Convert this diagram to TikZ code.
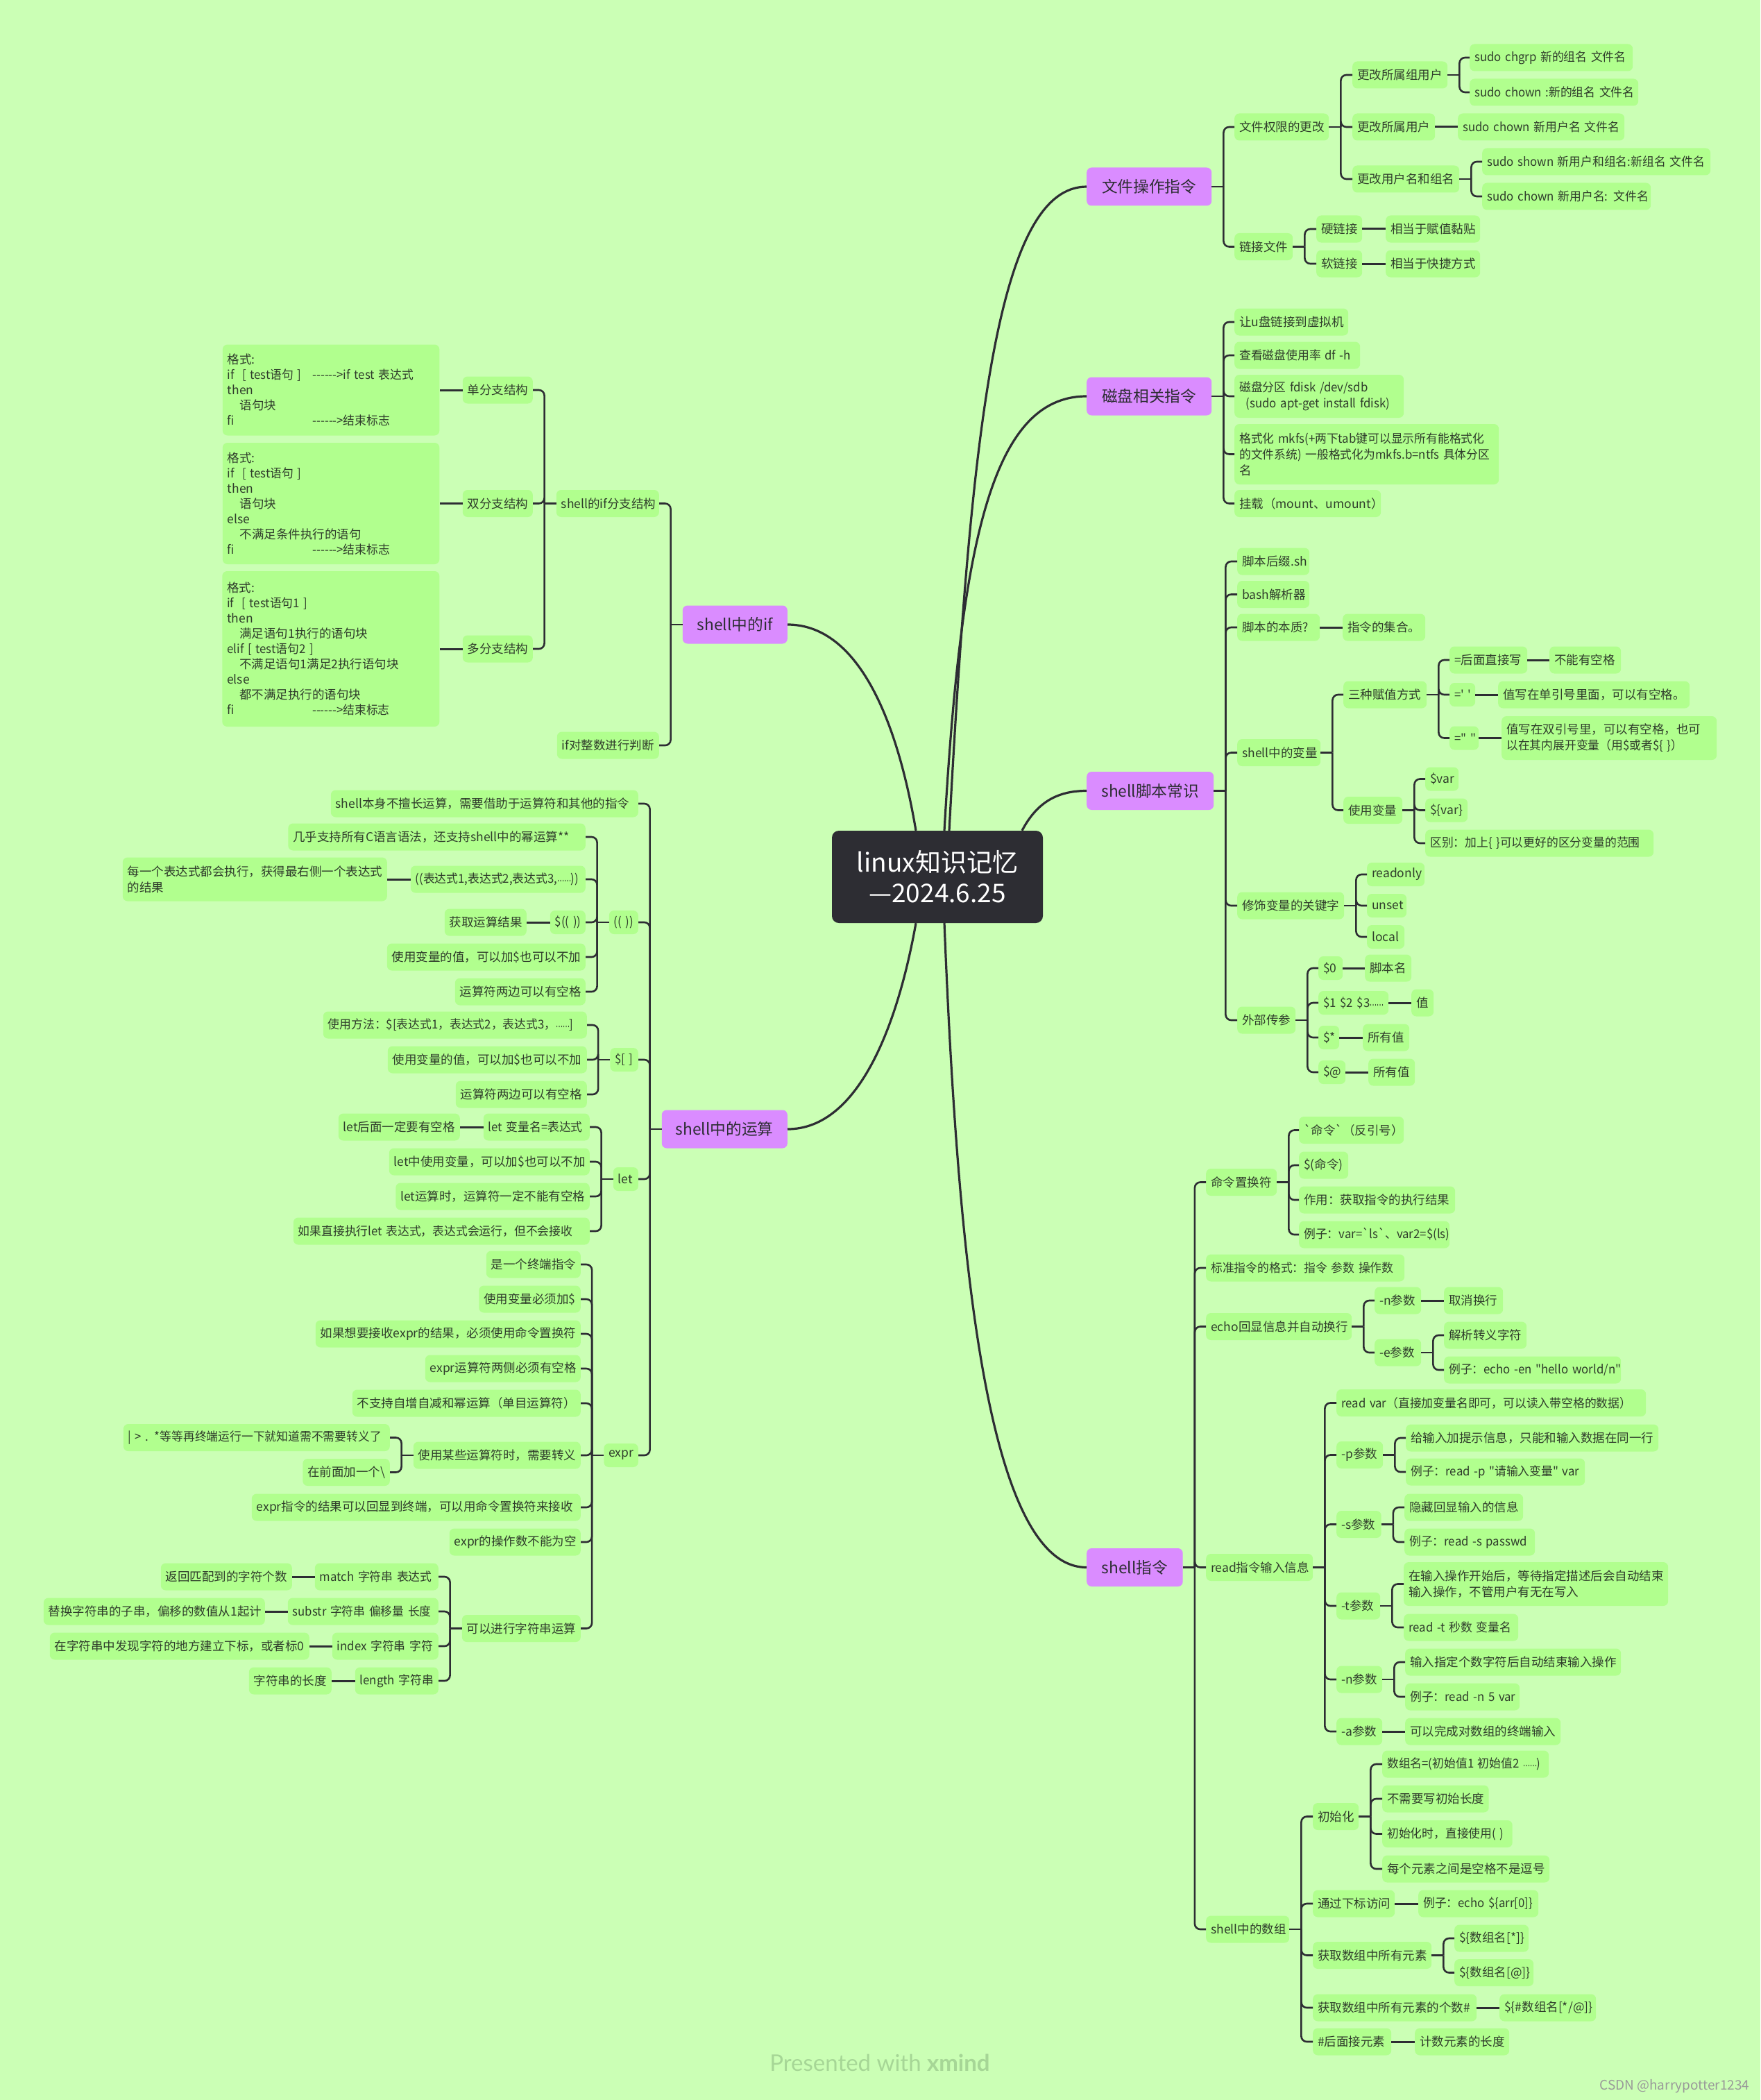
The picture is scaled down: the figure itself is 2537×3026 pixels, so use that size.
\documentclass[tikz,border=0pt]{standalone}
\usepackage{fontspec}
\usepackage{tikz}
\usetikzlibrary{positioning}
\newfontfamily\mapfont{Noto Sans CJK SC}
\newfontfamily\creditfont{Lato}
\definecolor{bggreen}{HTML}{CBFFB5}
\definecolor{leafgreen}{HTML}{B1FF8E}
\definecolor{topicpurple}{HTML}{DA8CFF}
\definecolor{inkdark}{HTML}{2D2D33}
\definecolor{leaftext}{HTML}{2F3D2B}
\definecolor{creditgreen}{HTML}{A6D696}
\newcommand{\kidsright}[2]{\draw[branch] (#1.east) -- ++(17,0) coordinate (spine);
    \foreach \kid in {#2} \draw[branch] (spine) |- (\kid.west);}
\newcommand{\kidsleft}[2]{\draw[branch] (#1.west) -- ++(-17,0) coordinate (spine);
    \foreach \kid in {#2} \draw[branch] (spine) |- (\kid.east);}
\newcommand{\tabto}[1]{\makebox[128pt][l]{#1}}
\newcommand{\codein}{\hspace*{18pt}}
\newcommand{\dotsrow}{\raisebox{2pt}{\scalebox{.55}[1]{……}}}
\newcommand{\oneline}[1]{\scalebox{.96}[1]{#1}}
\newcommand{\zcomma}{\char"FF0C\relax}
\newcommand{\zcolon}{\char"FF1A\relax}
\newcommand{\zopen}{\char"FF08\relax}
\newcommand{\zclose}{\char"FF09\relax}

\begin{document}
\begin{tikzpicture}[
    x=1pt, y=-1pt,
    leaf/.style={rectangle, fill=leafgreen, text=leaftext, rounded corners=7pt, minimum height=39, inner xsep=7pt, inner ysep=2pt, align=left, font=\mapfont\fontsize{17.5}{23}\selectfont},
    leafr/.style={leaf, anchor=west},
    leafl/.style={leaf, anchor=east},
    w/.style={text width=#1pt-14pt},
    small/.style={minimum height=34},
    code/.style={font=\mapfont\fontsize{17.5}{22}\selectfont},
    topic/.style={rectangle, fill=topicpurple, text=inkdark, rounded corners=7pt, minimum height=55, font=\mapfont\fontsize{22.7}{28}\selectfont},
    branch/.style={line width=2.6, draw=inkdark, rounded corners=8pt},
    single/.style={line width=3, draw=inkdark},
    trunk/.style={line width=3.2, draw=inkdark}
]
    \fill[bggreen] (0,0) rectangle (2537,3026);
    \useasboundingbox (0,0) rectangle (2537,3026);

    % Root
    \node (root) [rectangle, fill=inkdark, text=white, rounded corners=10pt, minimum width=304, minimum height=133, align=center, font=\mapfont\fontsize{37}{44}\selectfont] at (1351,1263.5) {linux知识记忆\\—2024.6.25};

    % Main topics
    \node (ops) [topic, anchor=west, minimum width=180] at (1566,269) {文件操作指令};
    \node (disk) [topic, anchor=west, minimum width=180] at (1566,571) {磁盘相关指令};
    \node (script) [topic, anchor=west, minimum width=183] at (1566,1139.5) {shell脚本常识};
    \node (cmd) [topic, anchor=west, minimum width=138.5] at (1566,2258.5) {shell指令};
    \node (shell_if) [topic, anchor=east, minimum width=151] at (1135,900) {shell中的if};
    \node (arith) [topic, anchor=east, minimum width=181] at (1135,1627) {shell中的运算};

    \draw [trunk] ([xshift=17]root.north) .. controls (1400,600) and (1440,269) .. (ops.west);
    \draw [trunk] ([xshift=10]root.north) .. controls (1385,780) and (1430,571) .. (disk.west);
    \draw [trunk] ([xshift=122]root.north) .. controls (1495,1155) and (1525,1139.5) .. (script.west);
    \draw [trunk] ([xshift=10]root.south) .. controls (1380,1800) and (1420,2258.5) .. (cmd.west);
    \draw [trunk] ([xshift=-31]root.north) .. controls (1290,1020) and (1230,900) .. (shell_if.east);
    \draw [trunk] ([xshift=-31]root.south) .. controls (1295,1470) and (1240,1627) .. (arith.east);

    % ========== File operations ==========
    \node (perm) [leafr, w=136] at (1779,183) {文件权限的更改};
    \node (links) [leafr, w=84] at (1779,355.5) {链接文件};
    \node (perm_grp) [leafr, w=137] at (1949,108) {更改所属组用户};
    \node (perm_usr) [leafr, w=119] at (1949,183) {更改所属用户};
    \node (perm_both) [leafr, w=154] at (1949,258) {更改用户名和组名};
    \node (grp_a) [leafr, w=235] at (2118,83) {\oneline{sudo chgrp 新的组名 文件名}};
    \node (grp_b) [leafr, w=243] at (2118,133) {\oneline{sudo chown :新的组名 文件名}};
    \node (usr_a) [leafr, w=240] at (2101,183) {\oneline{sudo chown 新用户名 文件名}};
    \node (both_a) [leafr, w=329] at (2136,233) {\oneline{sudo shown 新用户和组名:新组名 文件名}};
    \node (both_b) [leafr, w=243] at (2136,283) {\oneline{sudo chown 新用户名: 文件名}};
    \node (hard) [leafr, w=66] at (1897,330) {硬链接};
    \node (soft) [leafr, w=66] at (1897,380) {软链接};
    \node (hard_note) [leafr, w=136] at (1997,330) {相当于赋值黏贴};
    \node (soft_note) [leafr, w=136] at (1997,380) {相当于快捷方式};

    \kidsright{ops}{perm,links}
    \kidsright{perm}{perm_grp,perm_usr,perm_both}
    \kidsright{perm_grp}{grp_a,grp_b}
    \kidsright{perm_both}{both_a,both_b}
    \kidsright{links}{hard,soft}
    \draw [single] (perm_usr.east) -- (usr_a.west);
    \draw [single] (hard.east) -- (hard_note.west);
    \draw [single] (soft.east) -- (soft_note.west);

    % ========== Disk ==========
    \node (usb) [leafr, w=164] at (1779,464) {让u盘链接到虚拟机};
    \node (df) [leafr, w=181] at (1779,512) {\oneline{查看磁盘使用率 df -h}};
    \node (fdisk) [leafr, w=244, minimum height=62] at (1779,571) {\oneline{磁盘分区 fdisk /dev/sdb}\\\oneline{\hspace*{10pt}(sudo apt-get install fdisk)}};
    \node (mkfs) [leafr, w=381, minimum height=87] at (1779,654.5) {\oneline{格式化 mkfs(+两下tab键可以显示所有能格式化}\\\oneline{的文件系统) 一般格式化为mkfs.b=ntfs 具体分区}\\名};
    \node (mount) [leafr, w=211] at (1779,725.5) {挂载\zopen mount、umount\zclose};

    \kidsright{disk}{usb,df,fdisk,mkfs,mount}

    % ========== Script basics ==========
    \node (suffix) [leafr, w=104] at (1783,809) {脚本后缀.sh};
    \node (bash) [leafr, w=104] at (1783,856.5) {bash解析器};
    \node (nature) [leafr, w=119] at (1783,904) {脚本的本质?};
    \node (nature_a) [leafr, w=119] at (1935,904) {指令的集合。};
    \node (vars) [leafr, w=120] at (1783,1084.5) {shell中的变量};
    \node (keywords) [leafr, w=154] at (1783,1305) {修饰变量的关键字};
    \node (params) [leafr, w=84] at (1783,1470) {外部传参};
    \node (assign) [leafr, w=120] at (1936,1001) {三种赋值方式};
    \node (usevar) [leafr, w=85] at (1936,1167.5) {使用变量};
    \node (eq_plain) [leafr, w=112] at (2089,951) {=后面直接写};
    \node (eq_plain_a) [leafr, w=103] at (2233,951) {不能有空格};
    \node (eq_single) [leafr, small, w=37] at (2089,1001) {\oneline{=' '}};
    \node (eq_single_a) [leafr, w=276] at (2159,1001) {值写在单引号里面\zcomma 可以有空格。};
    \node (eq_double) [leafr, small, w=42] at (2089,1063.5) {\oneline{=" "}};
    \node (eq_double_a) [leafr, w=310, minimum height=63] at (2164,1063.5) {值写在双引号里\zcomma 可以有空格\zcomma 也可\\\oneline{以在其内展开变量\zopen 用\$或者\$\{ \}\zclose}};
    \node (var_a) [leafr, small, w=48] at (2054,1122.5) {\$var};
    \node (var_b) [leafr, small, w=61] at (2054,1167.5) {\$\{var\}};
    \node (var_c) [leafr, w=329] at (2054,1215) {\oneline{区别\zcolon 加上\{ \}可以更好的区分变量的范围}};
    \node (kw_a) [leafr, small, w=83] at (1970,1260) {readonly};
    \node (kw_b) [leafr, small, w=57] at (1970,1305) {unset};
    \node (kw_c) [leafr, small, w=54] at (1970,1350) {local};
    \node (arg_0) [leafr, small, w=35] at (1900,1395) {\$0};
    \node (arg_0a) [leafr, w=67] at (1967,1395) {脚本名};
    \node (arg_1) [leafr, small, w=101] at (1900,1445) {\oneline{\$1 \$2 \$3\dotsrow}};
    \node (arg_1a) [leafr, w=32] at (2034,1445) {值};
    \node (arg_s) [leafr, small, w=30] at (1900,1495) {\$*};
    \node (arg_sa) [leafr, w=67] at (1964,1495) {所有值};
    \node (arg_t) [leafr, small, w=39] at (1900,1545) {\$@};
    \node (arg_ta) [leafr, w=67] at (1972,1545) {所有值};

    \kidsright{script}{suffix,bash,nature,vars,keywords,params}
    \kidsright{vars}{assign,usevar}
    \kidsright{assign}{eq_plain,eq_single,eq_double}
    \kidsright{usevar}{var_a,var_b,var_c}
    \kidsright{keywords}{kw_a,kw_b,kw_c}
    \kidsright{params}{arg_0,arg_1,arg_s,arg_t}
    \draw [single] (nature.east) -- (nature_a.west);
    \draw [single] (eq_plain.east) -- (eq_plain_a.west);
    \draw [single] (eq_single.east) -- (eq_single_a.west);
    \draw [single] (eq_double.east) -- (eq_double_a.west);
    \draw [single] (arg_0.east) -- (arg_0a.west);
    \draw [single] (arg_1.east) -- (arg_1a.west);
    \draw [single] (arg_s.east) -- (arg_sa.west);
    \draw [single] (arg_t.east) -- (arg_ta.west);

    % ========== Shell commands ==========
    \node (subst) [leafr, w=102] at (1738,1703.5) {命令置换符};
    \node (format) [leafr, w=286] at (1738,1827) {\oneline{标准指令的格式\zcolon 指令 参数 操作数}};
    \node (echo) [leafr, w=210] at (1738,1911.5) {echo回显信息并自动换行};
    \node (read) [leafr, w=154] at (1738,2258.5) {read指令输入信息};
    \node (array) [leafr, w=120] at (1738,2780) {shell中的数组};
    \node (subst_a) [leafr, w=151] at (1872,1628.5) {`命令`\zopen 反引号\zclose};
    \node (subst_b) [leafr, w=71] at (1872,1679) {\$(命令)};
    \node (subst_c) [leafr, w=225] at (1872,1729) {作用\zcolon 获取指令的执行结果};
    \node (subst_d) [leafr, w=217] at (1872,1779) {\oneline{例子\zcolon var=`ls`、var2=\$(ls)}};
    \node (echo_n) [leafr, w=67] at (1981,1874) {-n参数};
    \node (echo_na) [leafr, w=85] at (2081,1874) {取消换行};
    \node (echo_e) [leafr, w=67] at (1981,1949) {-e参数};
    \node (echo_ea) [leafr, w=119] at (2081,1924) {解析转义字符};
    \node (echo_eb) [leafr, w=255] at (2081,1974) {\oneline{例子\zcolon echo -en "hello world/n"}};
    \node (read_var) [leafr, w=446] at (1926,2021.5) {\oneline{read var\zopen 直接加变量名即可\zcomma 可以读入带空格的数据\zclose}};
    \node (read_p) [leafr, w=67] at (1926,2096.5) {-p参数};
    \node (read_pa) [leafr, w=364] at (2026,2072) {给输入加提示信息\zcomma 只能和输入数据在同一行};
    \node (read_pb) [leafr, w=258] at (2026,2121) {\oneline{例子\zcolon read -p "请输入变量" var}};
    \node (read_s) [leafr, w=64.5] at (1926,2196.5) {-s参数};
    \node (read_sa) [leafr, w=171] at (2024,2172) {隐藏回显输入的信息};
    \node (read_sb) [leafr, w=188] at (2024,2222) {\oneline{例子\zcolon read -s passwd}};
    \node (read_t) [leafr, w=63] at (1926,2314) {-t参数};
    \node (read_ta) [leafr, w=381, minimum height=63] at (2023,2282.5) {在输入操作开始后\zcomma 等待指定描述后会自动结束\\输入操作\zcomma 不管用户有无在写入};
    \node (read_tb) [leafr, w=165] at (2023,2345) {\oneline{read -t 秒数 变量名}};
    \node (read_n) [leafr, w=66] at (1926,2420) {-n参数};
    \node (read_na) [leafr, w=311] at (2025,2395) {输入指定个数字符后自动结束输入操作};
    \node (read_nb) [leafr, w=165] at (2025,2445) {\oneline{例子\zcolon read -n 5 var}};
    \node (read_a) [leafr, w=66] at (1926,2495) {-a参数};
    \node (read_aa) [leafr, w=224] at (2025,2495) {可以完成对数组的终端输入};
    \node (arr_init) [leafr, w=66] at (1892,2617.5) {初始化};
    \node (arr_index) [leafr, w=118] at (1892,2743) {通过下标访问};
    \node (arr_all) [leafr, w=171] at (1892,2817.5) {获取数组中所有元素};
    \node (arr_count) [leafr, w=236] at (1892,2893) {获取数组中所有元素的个数\#};
    \node (arr_hash) [leafr, w=113] at (1892,2942) {\#后面接元素};
    \node (init_a) [leafr, w=240] at (1992,2542) {\oneline{数组名=(初始值1 初始值2 \dotsrow)}};
    \node (init_b) [leafr, w=153.5] at (1992,2592) {不需要写初始长度};
    \node (init_c) [leafr, w=187.5] at (1992,2642.5) {\oneline{初始化时\zcomma 直接使用( )}};
    \node (init_d) [leafr, w=241] at (1992,2693) {每个元素之间是空格不是逗号};
    \node (index_a) [leafr, w=173] at (2044,2743) {\oneline{例子\zcolon echo \$\{arr[0]\}}};
    \node (all_a) [leafr, w=107] at (2096,2793) {\$\{数组名[*]\}};
    \node (all_b) [leafr, w=114] at (2096,2842.5) {\$\{数组名[@]\}};
    \node (count_a) [leafr, w=139] at (2161,2893) {\$\{\#数组名[*/@]\}};
    \node (hash_a) [leafr, w=136] at (2039,2942) {计数元素的长度};

    \kidsright{cmd}{subst,format,echo,read,array}
    \kidsright{subst}{subst_a,subst_b,subst_c,subst_d}
    \kidsright{echo}{echo_n,echo_e}
    \kidsright{echo_e}{echo_ea,echo_eb}
    \kidsright{read}{read_var,read_p,read_s,read_t,read_n,read_a}
    \kidsright{read_p}{read_pa,read_pb}
    \kidsright{read_s}{read_sa,read_sb}
    \kidsright{read_t}{read_ta,read_tb}
    \kidsright{read_n}{read_na,read_nb}
    \kidsright{array}{arr_init,arr_index,arr_all,arr_count,arr_hash}
    \kidsright{arr_init}{init_a,init_b,init_c,init_d}
    \kidsright{arr_all}{all_a,all_b}
    \draw [single] (echo_n.east) -- (echo_na.west);
    \draw [single] (read_a.east) -- (read_aa.west);
    \draw [single] (arr_index.east) -- (index_a.west);
    \draw [single] (arr_count.east) -- (count_a.west);
    \draw [single] (arr_hash.east) -- (hash_a.west);

    % ========== Shell if ==========
    \node (if_struct) [leafl, w=148] at (950,725.5) {shell的if分支结构};
    \node (if_int) [leafl, w=147] at (950,1074) {if对整数进行判断};
    \node (if_one) [leafl, w=101] at (768,562) {单分支结构};
    \node (if_two) [leafl, w=101] at (768,725.5) {双分支结构};
    \node (if_many) [leafl, w=101] at (768,935) {多分支结构};
    \node (if_one_a) [leafl, code, w=312.5, minimum height=131] at (633.5,562) {格式:\\\oneline{\tabto{if\ \ [ test语句 ]}------>if test 表达式}\\then\\\codein 语句块\\\oneline{\tabto{fi}------>结束标志}};
    \node (if_two_a) [leafl, code, w=312.5, minimum height=175] at (633.5,725.5) {格式:\\\oneline{if\ \ [ test语句 ]}\\then\\\codein 语句块\\else\\\codein 不满足条件执行的语句\\\oneline{\tabto{fi}------>结束标志}};
    \node (if_many_a) [leafl, code, w=313, minimum height=224] at (633.5,935) {格式:\\\oneline{if\ \ [ test语句1 ]}\\then\\\codein 满足语句1执行的语句块\\\oneline{elif [ test语句2 ]}\\\codein 不满足语句1满足2执行语句块\\else\\\codein 都不满足执行的语句块\\\oneline{\tabto{fi}------>结束标志}};

    \kidsleft{shell_if}{if_struct,if_int}
    \kidsleft{if_struct}{if_one,if_two,if_many}
    \draw [single] (if_one.west) -- (if_one_a.east);
    \draw [single] (if_two.west) -- (if_two_a.east);
    \draw [single] (if_many.west) -- (if_many_a.east);

    % ========== Shell arithmetic ==========
    \node (ar_intro) [leafl, w=443] at (920,1158) {shell本身不擅长运算\zcomma 需要借助于运算符和其他的指令};
    \node (ar_paren) [leafl, small, w=42] at (920,1329) {\oneline{(( ))}};
    \node (ar_brack) [leafl, small, w=40.5] at (920,1527) {\oneline{\$[ ]}};
    \node (ar_let) [leafl, small, w=36] at (920,1699) {let};
    \node (ar_expr) [leafl, small, w=49.5] at (920,2097) {expr};
    \node (pa_a) [leafl, w=428.5] at (844,1206) {几乎支持所有C语言语法\zcomma 还支持shell中的幂运算**};
    \node (pa_b) [leafl, w=252] at (844,1267) {\oneline{((表达式1,表达式2,表达式3,\dotsrow))}};
    \node (pa_ba) [leafl, w=381, minimum height=63] at (558,1267) {每一个表达式都会执行\zcomma 获得最右侧一个表达式\\的结果};
    \node (pa_c) [leafl, small, w=51] at (844,1329) {\oneline{\$(( ))}};
    \node (pa_ca) [leafl, w=118] at (759,1329) {获取运算结果};
    \node (pa_d) [leafl, w=286] at (844,1379) {使用变量的值\zcomma 可以加\$也可以不加};
    \node (pa_e) [leafl, w=188] at (844,1429) {运算符两边可以有空格};
    \node (br_a) [leafl, w=380] at (846,1477) {\oneline{使用方法\zcolon \$[表达式1\zcomma 表达式2\zcomma 表达式3\zcomma \dotsrow]}};
    \node (br_b) [leafl, w=287] at (846,1527) {使用变量的值\zcomma 可以加\$也可以不加};
    \node (br_c) [leafl, w=189] at (846,1577) {运算符两边可以有空格};
    \node (le_a) [leafl, w=153] at (850,1624) {\oneline{let 变量名=表达式}};
    \node (le_aa) [leafl, w=175] at (663,1624) {let后面一定要有空格};
    \node (le_b) [leafl, w=289] at (850,1674) {let中使用变量\zcomma 可以加\$也可以不加};
    \node (le_c) [leafl, w=279.5] at (850,1724) {let运算时\zcomma 运算符一定不能有空格};
    \node (le_d) [leafl, w=427] at (850,1774) {\oneline{如果直接执行let 表达式\zcomma 表达式会运行\zcomma 但不会接收}};
    \node (ex_a) [leafl, w=136] at (837,1822) {是一个终端指令};
    \node (ex_b) [leafl, w=146.5] at (837,1872) {使用变量必须加\$};
    \node (ex_c) [leafl, w=382] at (837,1922) {如果想要接收expr的结果\zcomma 必须使用命令置换符};
    \node (ex_d) [leafl, w=224] at (837,1972) {expr运算符两侧必须有空格};
    \node (ex_e) [leafl, w=329] at (837,2022) {不支持自增自减和幂运算\zopen 单目运算符\zclose};
    \node (ex_f) [leafl, w=241] at (837,2097) {使用某些运算符时\zcomma 需要转义};
    \node (ex_fa) [leafl, w=384] at (562,2071.5) {\oneline{| > . *等等再终端运行一下就知道需不需要转义了}};
    \node (ex_fb) [leafl, w=125.5] at (562,2121.5) {在前面加一个\textbackslash};
    \node (ex_g) [leafl, w=474] at (837,2172) {expr指令的结果可以回显到终端\zcomma 可以用命令置换符来接收};
    \node (ex_h) [leafl, w=189] at (837,2222) {expr的操作数不能为空};
    \node (ex_i) [leafl, w=171] at (837,2346.5) {可以进行字符串运算};
    \node (st_a) [leafl, w=178] at (632,2272) {\oneline{match 字符串 表达式}};
    \node (st_aa) [leafl, w=189] at (421,2272) {返回匹配到的字符个数};
    \node (st_b) [leafl, w=217] at (632,2322) {\oneline{substr 字符串 偏移量 长度}};
    \node (st_ba) [leafl, w=319] at (382,2322) {替换字符串的子串\zcomma 偏移的数值从1起计};
    \node (st_c) [leafl, w=153] at (632,2372) {\oneline{index 字符串 字符}};
    \node (st_ca) [leafl, w=374] at (446,2372) {在字符串中发现字符的地方建立下标\zcomma 或者标0};
    \node (st_d) [leafl, w=120] at (632,2422) {\oneline{length 字符串}};
    \node (st_da) [leafl, w=119] at (478,2422) {字符串的长度};

    \kidsleft{arith}{ar_intro,ar_paren,ar_brack,ar_let,ar_expr}
    \kidsleft{ar_paren}{pa_a,pa_b,pa_c,pa_d,pa_e}
    \kidsleft{ar_brack}{br_a,br_b,br_c}
    \kidsleft{ar_let}{le_a,le_b,le_c,le_d}
    \kidsleft{ar_expr}{ex_a,ex_b,ex_c,ex_d,ex_e,ex_f,ex_g,ex_h,ex_i}
    \kidsleft{ex_f}{ex_fa,ex_fb}
    \kidsleft{ex_i}{st_a,st_b,st_c,st_d}
    \draw [single] (pa_b.west) -- (pa_ba.east);
    \draw [single] (pa_c.west) -- (pa_ca.east);
    \draw [single] (le_a.west) -- (le_aa.east);
    \draw [single] (st_a.west) -- (st_aa.east);
    \draw [single] (st_b.west) -- (st_ba.east);
    \draw [single] (st_c.west) -- (st_ca.east);
    \draw [single] (st_d.west) -- (st_da.east);

    % Footer
    \node (credit) [text=creditgreen, font=\creditfont\fontsize{33}{40}\selectfont] at (1268,2972) {Presented with \textbf{xmind}};
    \node (mark_csdn) [text=black!40, anchor=east, font=\mapfont\fontsize{19}{24}\selectfont] at (2525,3006) {CSDN @harrypotter1234};
\end{tikzpicture}
\end{document}
